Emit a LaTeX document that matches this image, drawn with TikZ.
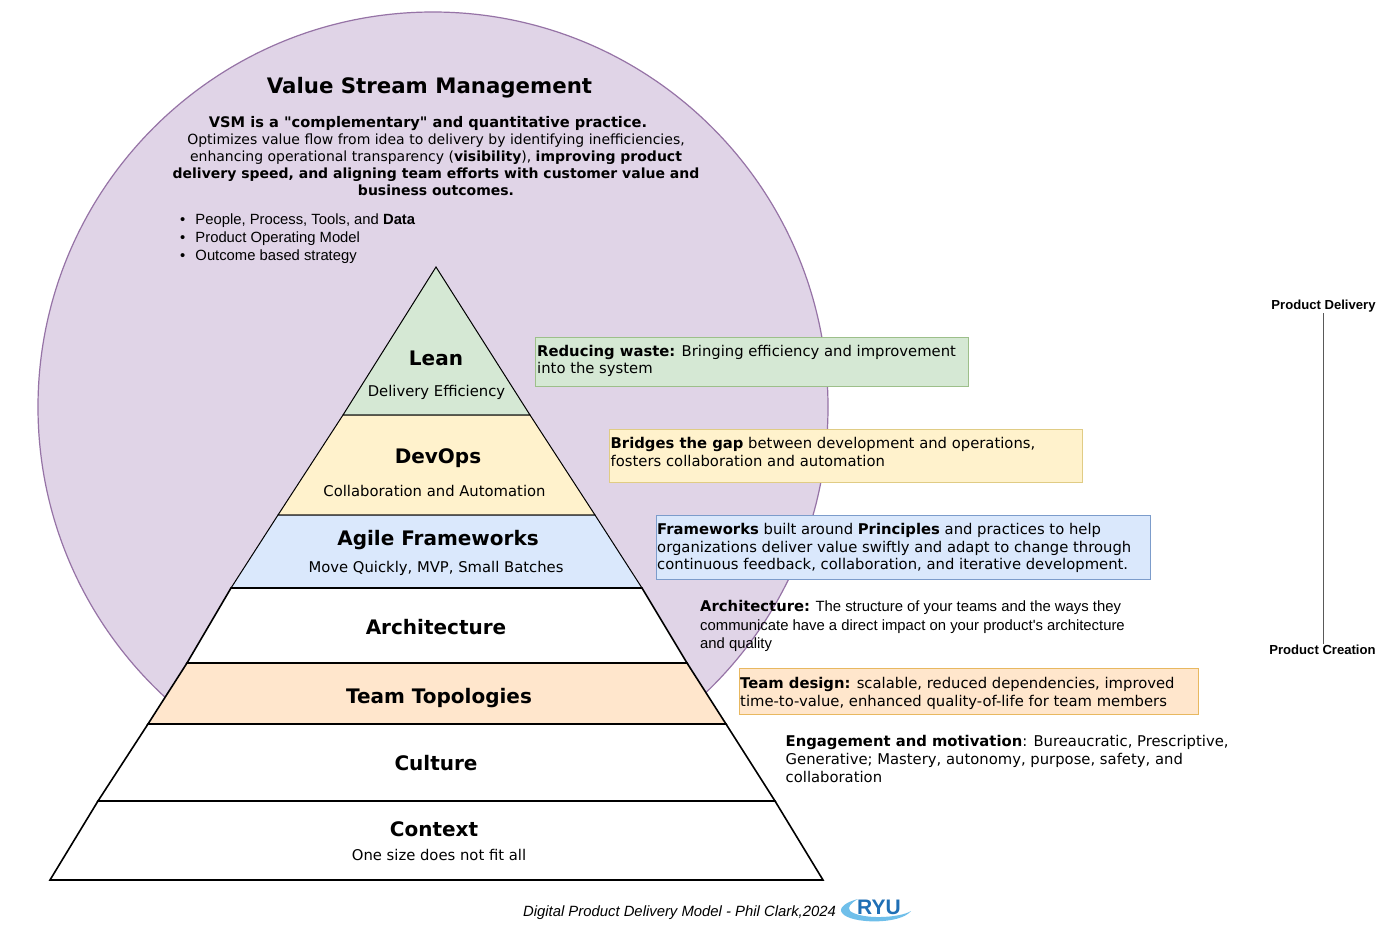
\documentclass[tikz,border=0pt]{standalone}
\usepackage{fontspec}
\setmainfont{DejaVu Sans}
\newfontfamily\arialfont{Liberation Sans}
\newfontfamily\quotefont{DejaVu Sans}
\usepackage{xcolor}
\definecolor{vsmfill}{HTML}{E0D4E7}
\definecolor{vsmline}{HTML}{9673A6}
\definecolor{leanfill}{HTML}{D5E8D4}
\definecolor{leanline}{HTML}{9DBF8A}
\definecolor{devfill}{HTML}{FFF2CC}
\definecolor{devline}{HTML}{E0CC85}
\definecolor{agilefill}{HTML}{DAE8FC}
\definecolor{agileline}{HTML}{7C9CCB}
\definecolor{teamfill}{HTML}{FFE6CC}
\definecolor{teamline}{HTML}{E8B860}
\definecolor{ryublue}{HTML}{1F6FB5}
\definecolor{ryusky}{HTML}{6FBFEA}
\newcommand{\bodyfont}{\fontsize{14.8}{17.6}\selectfont}
\begin{document}
\begin{tikzpicture}[x=1pt,y=-1pt,
    layer/.style={draw=black,line width=1pt},
    lowlayer/.style={draw=black,line width=1.6pt},
    heading/.style={font=\fontsize{20}{24}\selectfont\bfseries},
    subhead/.style={font=\bodyfont},
    notebox/.style={draw,anchor=north west,line width=1.2pt,inner sep=0pt},
    notetext/.style={anchor=north west,inner sep=0pt,align=left,font=\bodyfont},
    sidelabel/.style={font=\arialfont\bfseries\fontsize{13.1}{16}\selectfont,inner sep=1pt}]
  \useasboundingbox (0,0) rectangle (1400,932);
  \fill[white] (0,0) rectangle (1400,932);
  \draw[fill=vsmfill,draw=vsmline,line width=1.2pt] (433,407) circle (395);

  \coordinate (apex) at (436,267);
  \draw[layer,fill=leanfill] (apex) -- (530,415) -- (343,415) -- cycle;
  \draw[layer,fill=devfill] (343,415) -- (530,415) -- (595,515) -- (278,515) -- cycle;
  \draw[layer,fill=agilefill] (278,515) -- (595,515) -- (642,588) -- (231,588) -- cycle;
  \draw[lowlayer,fill=white] (231,588) -- (642,588) -- (687,663) -- (187,663) -- cycle;
  \draw[lowlayer,fill=teamfill] (187,663) -- (687,663) -- (726,724) -- (148,724) -- cycle;
  \draw[lowlayer,fill=white] (148,724) -- (726,724) -- (775,801) -- (98,801) -- cycle;
  \draw[lowlayer,fill=white] (98,801) -- (775,801) -- (823,880) -- (50,880) -- cycle;
  \draw[line width=2.2pt] (187,663) -- (687,663);
  \draw[line width=2.2pt] (50,880) -- (823,880);

  \node[font=\fontsize{21.3}{25}\selectfont\bfseries] (vsmtitle) at (429.5,87.5) {Value Stream Management};
  \node[font=\fontsize{14}{17}\selectfont,align=center,anchor=north] (vsmtext) at (436,112.5) {\hspace*{-16pt}{\quotefont\fontsize{14.6}{17}\selectfont\bfseries VSM is a "complementary" and quantitative practice.}\\
    Optimizes value flow from idea to delivery by identifying inefficiencies,\\
    enhancing operational transparency (\textbf{visibility}), \textbf{improving product}\\
    \textbf{delivery speed, and aligning team efforts with customer value and}\\
    \textbf{business outcomes.}};
  \node[font=\arialfont\fontsize{14.8}{18}\selectfont,align=left,anchor=north west,inner sep=0pt] (vsmlist) at (180,214) {\textbullet\hspace{6pt} People, Process, Tools, and \textbf{Data}\\
    \textbullet\hspace{6pt} Product Operating Model\\
    \textbullet\hspace{6pt} Outcome based strategy};

  \node[heading] (lean) at (436,358) {Lean};
  \node[subhead] (leansub) at (436.5,392) {Delivery Efficiency};
  \node[heading] (devops) at (438,458) {DevOps};
  \node[subhead] (devopssub) at (434.5,490.5) {Collaboration and Automation};
  \node[heading] (agile) at (438,540.5) {Agile Frameworks};
  \node[subhead] (agilesub) at (436,568) {Move Quickly, MVP, Small Batches};
  \node[heading] (arch) at (436,627) {Architecture};
  \node[heading] (team) at (439,698) {Team Topologies};
  \node[heading] (culture) at (436,763.5) {Culture};
  \node[heading] (context) at (434,829) {Context};
  \node[subhead] (contextsub) at (439,854.5) {One size does not fit all};

  \node[notebox,fill=leanfill,draw=leanline,minimum width=433,minimum height=49] (leannote) at (535,337) {};
  \node[notetext,font=\fontsize{14.8}{17.3}\selectfont] (leantext) at (537,345) {\textbf{Reducing waste:} Bringing efficiency and improvement\\into the system};
  \node[notebox,fill=devfill,draw=devline,minimum width=473,minimum height=53] (devnote) at (609,429) {};
  \node[notetext] (devtext) at (610.5,437) {\textbf{Bridges the gap} between development and operations,\\fosters collaboration and automation};
  \node[notebox,fill=agilefill,draw=agileline,minimum width=494,minimum height=64] (agilenote) at (656,515) {};
  \node[notetext] (agiletext) at (657,523) {\textbf{Frameworks} built around \textbf{Principles} and practices to help\\organizations deliver value swiftly and adapt to change through\\continuous feedback, collaboration, and iterative development.};
  \node[notetext,font=\arialfont\fontsize{14.85}{18.7}\selectfont] (archtext) at (700,600) {{\normalfont\bodyfont\textbf{Architecture:}} The structure of your teams and the ways they\\communicate have a direct impact on your product's architecture\\and quality};
  \node[notebox,fill=teamfill,draw=teamline,minimum width=459,minimum height=46] (teamnote) at (739,668) {};
  \node[notetext] (teamtext) at (740,677) {\textbf{Team design:} scalable, reduced dependencies, improved\\time-to-value, enhanced quality-of-life for team members};
  \node[notetext,font=\fontsize{14.8}{18}\selectfont] (culturetext) at (785.5,735) {\textbf{Engagement and motivation}: Bureaucratic, Prescriptive,\\Generative; Mastery, autonomy, purpose, safety, and\\collaboration};

  \node[sidelabel] (delivery) at (1323.5,306) {Product Delivery};
  \node[sidelabel] (creation) at (1322.5,650) {Product Creation};
  \draw[black!65,line width=1pt] (delivery.south) -- (delivery.south |- creation.north);

  \node[font=\arialfont\itshape\fontsize{14.85}{18}\selectfont] (credit) at (679.5,912.5) {Digital Product Delivery Model - Phil Clark,2024};
  \fill[ryusky] (858,899) .. controls (846,902) and (838,908) .. (842,913) .. controls (850,924) and (900,925) .. (911,911) .. controls (900,918) and (862,920) .. (850,911) .. controls (847,907) and (851,903) .. (858,899);
  \node[font=\arialfont\bfseries\fontsize{21}{24}\selectfont,text=ryublue,inner sep=0pt] (ryu) at (879,907) {RYU};
\end{tikzpicture}
\end{document}
